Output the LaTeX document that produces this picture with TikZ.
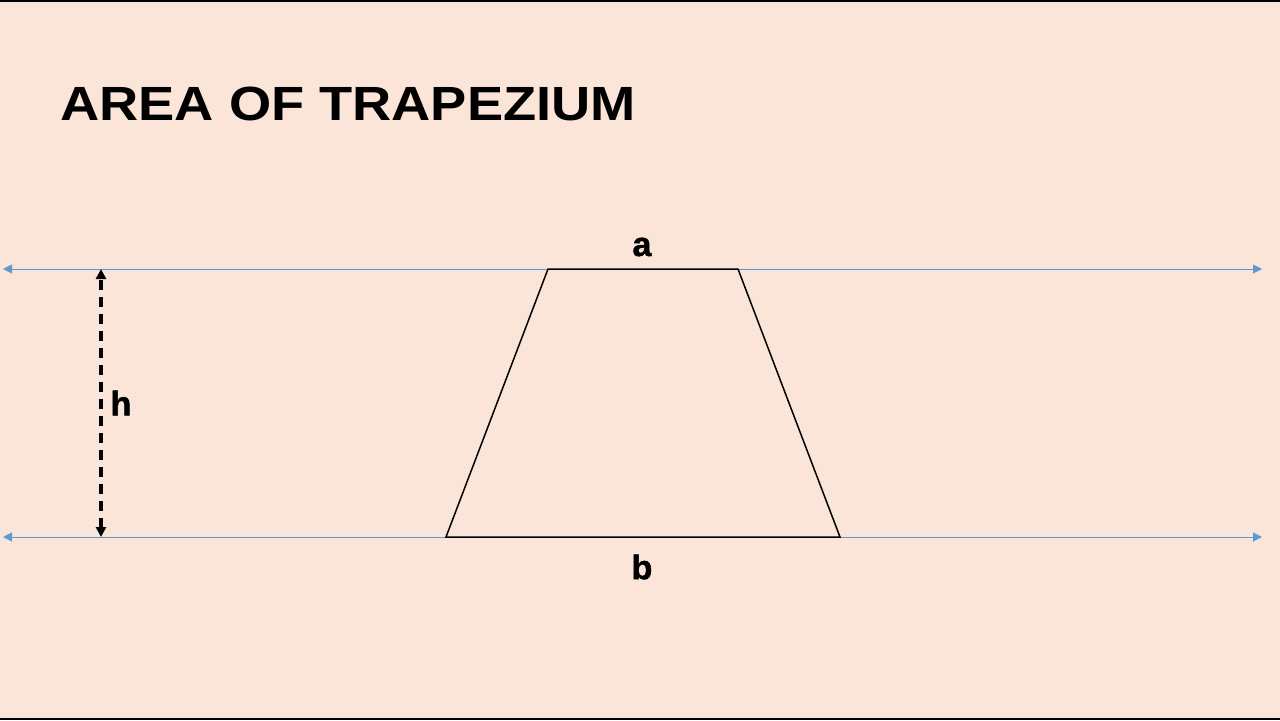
\documentclass[tikz,border=0pt]{standalone}
\usepackage{fontspec}
\setmainfont{Liberation Sans}
\newfontfamily\titlefont[FakeStretch=1.13]{Liberation Sans}
\newfontfamily\labelfont[FakeBold=1.5]{Liberation Sans}
\usetikzlibrary{arrows.meta}
\definecolor{slidebg}{RGB}{250,229,216}
\definecolor{guideblue}{RGB}{91,155,213}
\begin{document}
\begin{tikzpicture}[x=0.5pt, y=-0.5pt,
guide/.style={guideblue, line width=0.45pt, {Triangle[width=4.5pt, length=4.5pt]}-{Triangle[width=4.5pt, length=4.5pt]}},
height/.style={black, line width=1.6pt, dash pattern=on 5pt off 3.5pt, {Triangle[width=5pt, length=5pt]}-{Triangle[width=5pt, length=5pt]}},
edge/.style={black, line width=0.75pt, line join=miter},
label/.style={font=\labelfont\bfseries\fontsize{17}{17}\selectfont, inner sep=0pt},
]
%Background
\fill[slidebg] (0, 0) rectangle (1280, 720);
\useasboundingbox (0, 0) rectangle (1280, 720);
\fill[black] (0, 0) rectangle (1280, 2);
\fill[black] (0, 718) rectangle (1280, 720);

%Title
\node[anchor=base west, inner sep=0pt, font=\titlefont\bfseries\fontsize{24}{24}\selectfont] (title) at (60, 120) {AREA OF TRAPEZIUM};

%Guide lines
\coordinate (topL) at (3, 269);
\coordinate (topR) at (1262, 269);
\coordinate (botL) at (3, 537);
\coordinate (botR) at (1262, 537);
\draw[guide] (topL) -- (topR);
\draw[guide] (botL) -- (botR);

%Trapezium
\coordinate (A) at (548, 269);
\coordinate (B) at (738, 269);
\coordinate (C) at (840, 537);
\coordinate (D) at (446, 537);
\draw[edge] (A) -- (B) -- (C) -- (D) -- cycle;

%Height
\coordinate (hTop) at (101, 269);
\coordinate (hBot) at (101, 537);
\draw[height] (hBot) -- (hTop);

%Labels
\node[label] (la) at (642, 247) {a};
\node[label] (lb) at (642, 567) {b};
\node[label] (lh) at (121, 403) {h};
\end{tikzpicture}
\end{document}
